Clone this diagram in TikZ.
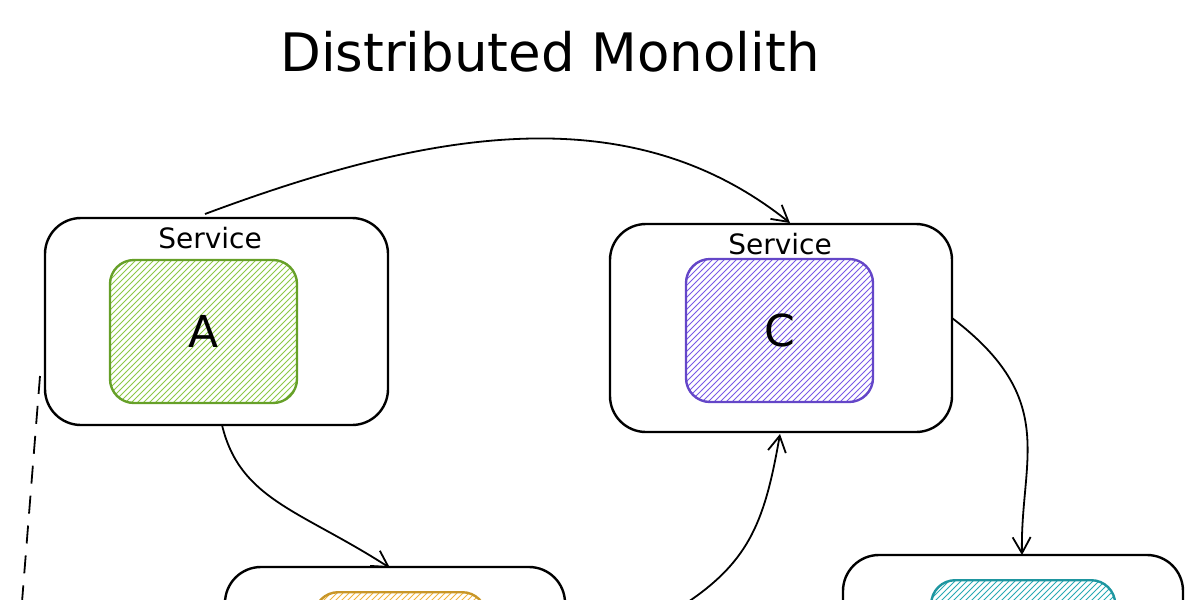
\documentclass[tikz,border=0pt]{standalone}
\usepackage{fontspec}
\setmainfont{DejaVu Sans}
\usetikzlibrary{patterns,arrows.meta}
\begin{document}
\begin{tikzpicture}[x=0.5pt,y=-0.5pt,
  outer/.style={draw=black,line width=1.2pt,rounded corners=18pt},
  inner/.style={line width=1.2pt,rounded corners=12pt},
  conn/.style={line width=0.9pt,-{Straight Barb[length=8pt,width=9pt]}},
  svc/.style={font=\fontsize{14}{14}\selectfont},
  big/.style={font=\fontsize{22}{22}\selectfont}]
\useasboundingbox (0,0) rectangle (1200,600);
\node[font=\fontsize{26.5}{26.5}\selectfont] (title) at (550,52) {Distributed Monolith};
% A
\draw[outer] (45,218) rectangle (388,425);
\node[inner,draw={rgb,255:red,102;green,160;blue,40},pattern=north east lines,pattern color={rgb,255:red,140;green,200;blue,70},minimum width=93.5pt,minimum height=71.5pt] (ia) at (203.5,331.5) {};
\node[big] (la) at (ia) {A};
\node[svc] (sa) at (210,238) {Service};
\coordinate (atop) at (205,214);
\coordinate (abot) at (222,425);
% C
\draw[outer] (610,224) rectangle (952,432);
\node[inner,draw={rgb,255:red,100;green,70;blue,200},pattern=north east lines,pattern color={rgb,255:red,120;green,90;blue,230},minimum width=93.5pt,minimum height=71.5pt] (ic) at (779.5,330.5) {};
\node[big] (lc) at (ic) {C};
\node[svc] (sc) at (780,244) {Service};
\coordinate (ctop) at (790,223);
\coordinate (cbot) at (780,434);
\coordinate (cright) at (952,318);
% bottom boxes
\draw[outer] (225,567) rectangle (565,640);
\node[inner,draw={rgb,255:red,200;green,150;blue,40},pattern=north east lines,pattern color={rgb,255:red,240;green,180;blue,60},minimum width=86pt,minimum height=40pt,anchor=north west] (ib) at (313,591) {};
\coordinate (btop) at (390,568);
\draw[outer] (843,555) rectangle (1183,640);
\node[inner,draw={rgb,255:red,30;green,150;blue,160},pattern=north east lines,pattern color={rgb,255:red,40;green,170;blue,180},minimum width=92pt,minimum height=40pt,anchor=north west] (id) at (930,579) {};
\coordinate (dtop) at (1022,555);
\coordinate (bstart) at (688,602);
\coordinate (dash1) at (40,376);
\coordinate (dash2) at (22,602);
% connectors
\draw[conn] (atop) .. controls (430,130) and (630,95) .. (ctop);
\draw[conn] (abot) .. controls (240,500) and (300,510) .. (btop);
\draw[conn] (bstart) .. controls (750,560) and (765,520) .. (cbot);
\draw[conn] (cright) .. controls (1060,400) and (1020,460) .. (dtop);
\draw[line width=0.9pt,dash pattern=on 9pt off 6pt] (dash1) -- (dash2);
\end{tikzpicture}
\end{document}
